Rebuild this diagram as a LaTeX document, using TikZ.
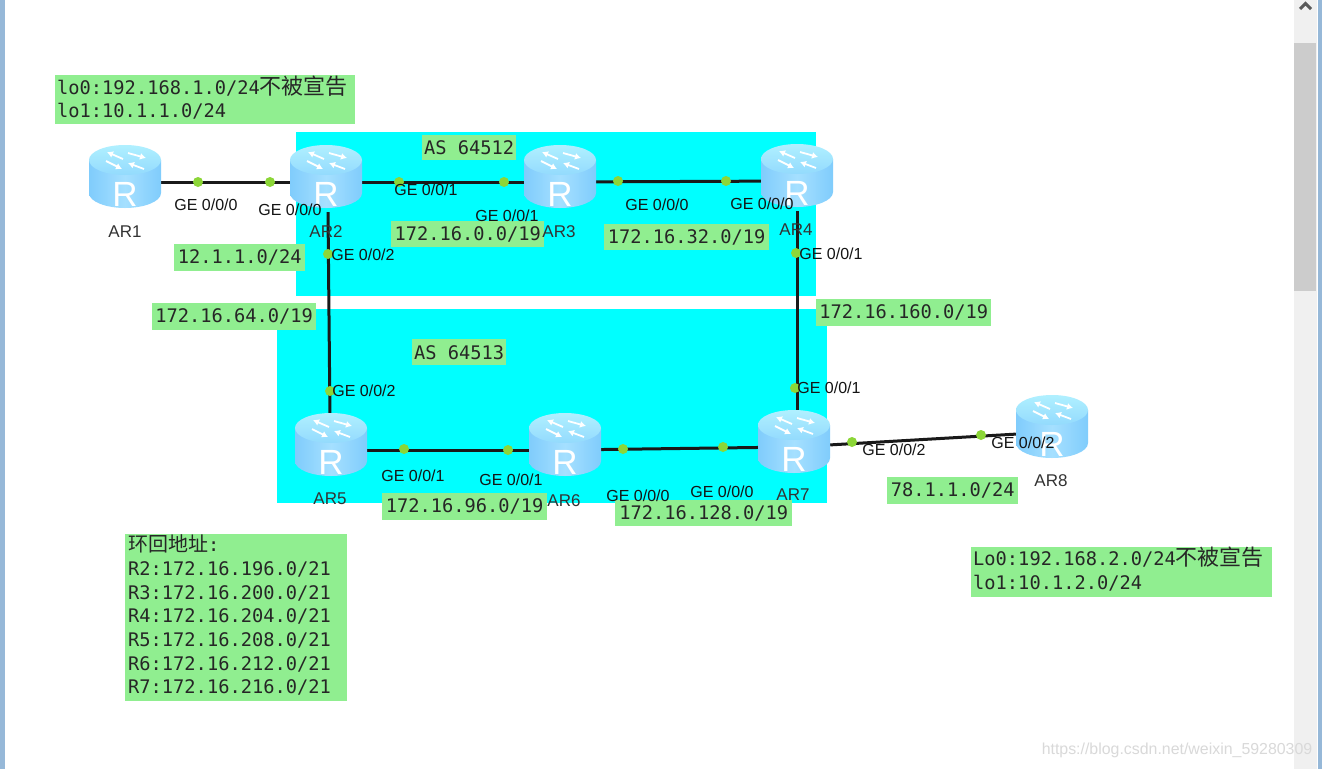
\documentclass[tikz,border=0pt]{standalone}
\usepackage{fontspec}
\setmainfont{Liberation Sans}
\newfontfamily\netmono{DejaVu Sans Mono}
\newfontfamily\netcjk{Noto Sans CJK SC}
\usetikzlibrary{arrows.meta}
\definecolor{ascyan}{RGB}{0, 255, 255}
\definecolor{notegreen}{RGB}{144, 238, 144}
\definecolor{portgreen}{RGB}{140, 214, 56}
\definecolor{routerside}{RGB}{128, 204, 252}
\definecolor{routermid}{RGB}{165, 224, 255}
\definecolor{routertop}{RGB}{176, 240, 255}
\definecolor{winblue}{RGB}{150, 184, 216}
\tikzset{
    routerbox/.style={minimum width=72pt, minimum height=60pt, inner sep=0pt},
    portdot/.style={circle, fill=portgreen, minimum size=10pt, inner sep=0pt},
    linkline/.style={line width=3pt, black!90},
    portlabel/.style={font=\fontsize{16}{18}\selectfont, text=black!92, inner sep=0pt},
    routername/.style={font=\fontsize{17}{19}\selectfont, text=black!80, inner sep=0pt},
    notebox/.style={anchor=north west, fill=notegreen, inner sep=0pt, align=center, font=\netmono\fontsize{18.7}{23.7}\selectfont, text=black!85},
    iconarrow/.style={white, line width=1.8pt, -{Latex[length=6pt, width=7pt]}},
    routerbody/.pic={
        \path[left color=routerside, right color=routerside, middle color=routermid] (-36,-22) -- (-36,11) .. controls (-36,20) and (-18,26) .. (0,26) .. controls (18,26) and (36,20) .. (36,11) -- (36,-22) -- cycle;
        \path[top color=routertop, bottom color=routerside!60!routertop] (0,-22) ellipse [x radius=36pt, y radius=15pt];
        \draw[iconarrow] (-2,-23) -- (-18,-30);
        \draw[iconarrow] (-19,-21) -- (-3,-13);
        \draw[iconarrow] (3,-29) -- (21,-24);
        \draw[iconarrow] (19,-13) -- (3,-19);
        \node[text=white, inner sep=0pt, font=\fontsize{35}{35}\selectfont] (rletter) at (0,12) {R};
    }
}
\begin{document}
\begin{tikzpicture}[x=1pt, y=-1pt]
    \useasboundingbox (0,0) rectangle (1322,769);
    % window
    \fill[white] (0,0) rectangle (1322,769);
    \fill[winblue] (0,0) rectangle (5,769);
    \fill[winblue] (1318,0) rectangle (1322,769);
    \fill[black!6] (1294,0) rectangle (1317,769);
    \fill[black!20] (1294,43) rectangle (1316,291);
    \draw[black!65, line width=3pt] (1300,9) -- (1305.5,3.5) -- (1311,9);

    % AS areas
    \fill[ascyan] (296,132) rectangle (816,296);
    \fill[ascyan] (277,309) rectangle (827,503);

    % routers
    \node[routerbox] (ar1) at (125,182) {};
    \node[routerbox] (ar2) at (326,182) {};
    \node[routerbox] (ar3) at (560,182) {};
    \node[routerbox] (ar4) at (797,181) {};
    \node[routerbox] (ar5) at (331,450) {};
    \node[routerbox] (ar6) at (565,450) {};
    \node[routerbox] (ar7) at (794,447) {};
    \node[routerbox] (ar8) at (1052,432) {};

    \draw[linkline] (ar1) -- (ar2);
    \draw[linkline] (ar2) -- (ar3);
    \draw[linkline] (ar3) -- (ar4);
    \draw[linkline] ([xshift=2pt]ar2.south) -- ([xshift=-1pt]ar5.north);
    \draw[linkline] (ar4) -- (ar7.north -| ar4);
    \draw[linkline] (ar5) -- (ar6);
    \draw[linkline] (ar6) -- (ar7);
    \draw[linkline] (ar7) -- (ar8);

    \pic at (ar1) {routerbody};
    \pic at (ar2) {routerbody};
    \pic at (ar3) {routerbody};
    \pic at (ar4) {routerbody};
    \pic at (ar5) {routerbody};
    \pic at (ar6) {routerbody};
    \pic at (ar7) {routerbody};
    \pic at (ar8) {routerbody};

    % ports
    \node[portdot] (p1) at (198,182) {};
    \node[portdot] (p2) at (270,182) {};
    \node[portdot] (p3) at (399,182) {};
    \node[portdot] (p4) at (504,182) {};
    \node[portdot] (p5) at (618,181) {};
    \node[portdot] (p6) at (726,181) {};
    \node[portdot] (p7) at (328,254) {};
    \node[portdot] (p8) at (330,391) {};
    \node[portdot] (p9) at (796,253) {};
    \node[portdot] (p10) at (795,388) {};
    \node[portdot] (p11) at (404,449) {};
    \node[portdot] (p12) at (508,450) {};
    \node[portdot] (p13) at (623,449) {};
    \node[portdot] (p14) at (723,447) {};
    \node[portdot] (p15) at (852,442) {};
    \node[portdot] (p16) at (981,435) {};

    % notes
    \node[notebox, minimum width=300pt, minimum height=49pt, text width=296pt, align=left] (noteone) at (55,75) {lo0:192.168.1.0/24{\netcjk\fontsize{22}{23.7}\selectfont 不被宣告}\\lo1:10.1.1.0/24\vspace{4pt}};
    \node[notebox, minimum width=131pt, minimum height=27pt] (net1) at (174,244) {12.1.1.0/24};
    \node[notebox, minimum width=164pt, minimum height=27pt] (net2) at (152,303) {172.16.64.0/19};
    \node[notebox, minimum width=94pt, minimum height=25pt] (as1) at (422,135) {AS 64512};
    \node[notebox, minimum width=153pt, minimum height=26pt] (net3) at (391,221) {172.16.0.0/19};
    \node[notebox, minimum width=165pt, minimum height=26pt] (net4) at (604,224) {172.16.32.0/19};
    \node[notebox, minimum width=175pt, minimum height=27pt] (net5) at (816,299) {172.16.160.0/19};
    \node[notebox, minimum width=94pt, minimum height=26pt] (as2) at (412,339) {AS 64513};
    \node[notebox, minimum width=165pt, minimum height=27pt] (net6) at (382,493) {172.16.96.0/19};
    \node[notebox, minimum width=177pt, minimum height=26pt] (net7) at (615,500) {172.16.128.0/19};
    \node[notebox, minimum width=131pt, minimum height=27pt] (net8) at (887,477) {78.1.1.0/24};
    \node[notebox, minimum width=301pt, minimum height=49pt, text width=297pt, align=left] (notetwo) at (971,547) {Lo0:192.168.2.0/24{\netcjk\fontsize{22}{23.7}\selectfont 不被宣告}\\lo1:10.1.2.0/24\vspace{6pt}};
    \node[notebox, minimum width=222pt, minimum height=167pt, text width=216pt, align=left] (noteloop) at (125,534) {{\netcjk\fontsize{20}{23.7}\selectfont 环回地址}:\\R2:172.16.196.0/21\\R3:172.16.200.0/21\\R4:172.16.204.0/21\\R5:172.16.208.0/21\\R6:172.16.212.0/21\\R7:172.16.216.0/21\vspace{5pt}};

    % port labels
    \node[portlabel] (g1) at (206,205) {GE 0/0/0};
    \node[portlabel] (g2) at (290,210) {GE 0/0/0};
    \node[portlabel] (g3) at (426,190) {GE 0/0/1};
    \node[portlabel] (g4) at (507,216) {GE 0/0/1};
    \node[portlabel] (g5) at (657,205) {GE 0/0/0};
    \node[portlabel] (g6) at (762,204) {GE 0/0/0};
    \node[portlabel] (g7) at (363,255) {GE 0/0/2};
    \node[portlabel] (g8) at (364,391) {GE 0/0/2};
    \node[portlabel] (g9) at (831,254) {GE 0/0/1};
    \node[portlabel] (g10) at (829,388) {GE 0/0/1};
    \node[portlabel] (g11) at (413,476) {GE 0/0/1};
    \node[portlabel] (g12) at (511,480) {GE 0/0/1};
    \node[portlabel] (g13) at (638,496) {GE 0/0/0};
    \node[portlabel] (g14) at (722,492) {GE 0/0/0};
    \node[portlabel] (g15) at (894,450) {GE 0/0/2};
    \node[portlabel] (g16) at (1023,443) {GE 0/0/2};

    % router names
    \node[routername] (n1) at (125,232) {AR1};
    \node[routername] (n2) at (326,232) {AR2};
    \node[routername] (n3) at (559,232) {AR3};
    \node[routername] (n4) at (796,230) {AR4};
    \node[routername] (n5) at (330,499) {AR5};
    \node[routername] (n6) at (564,501) {AR6};
    \node[routername] (n7) at (793,495) {AR7};
    \node[routername] (n8) at (1051,481) {AR8};

    \node[text=black!15, inner sep=0pt, font=\fontsize{15.9}{18}\selectfont] (mark) at (1177,750) {https://blog.csdn.net/weixin\_59280309};
\end{tikzpicture}
\end{document}
